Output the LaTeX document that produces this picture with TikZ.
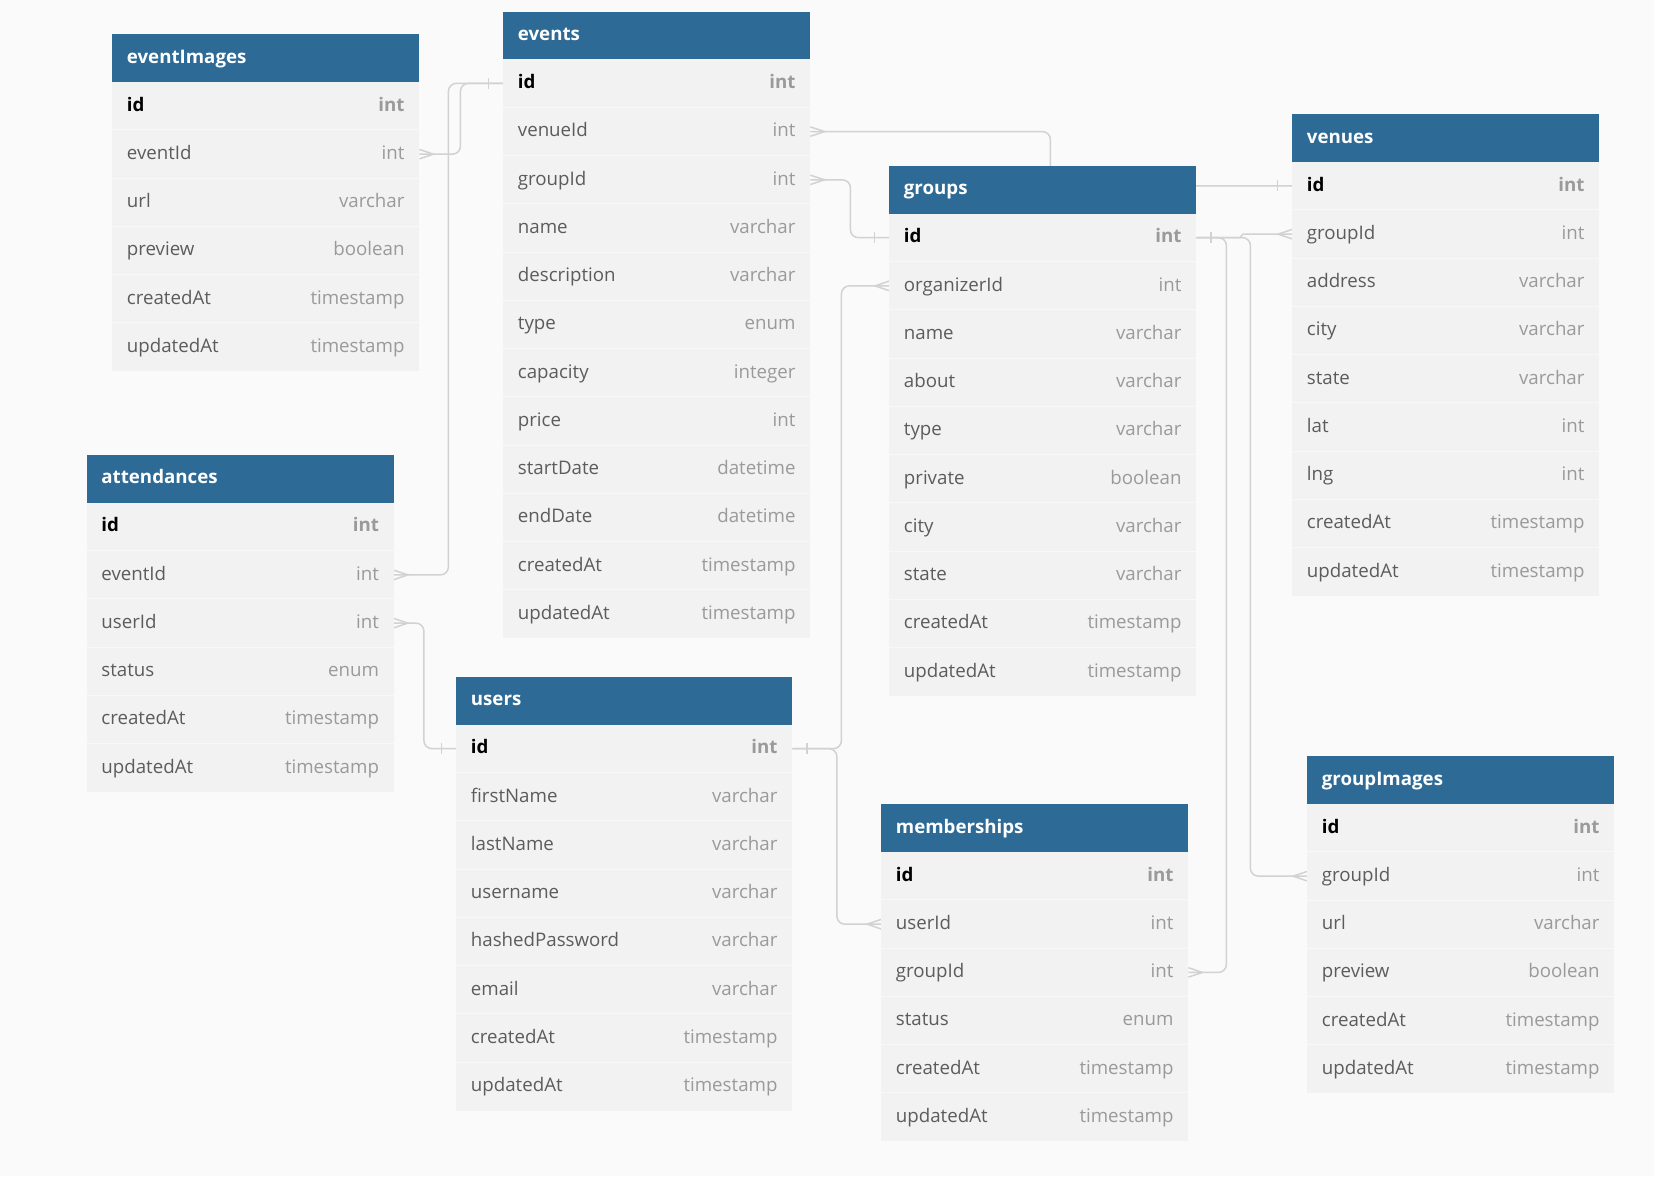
\documentclass[tikz,border=0pt]{standalone}
\usepackage{fontspec}
\setmainfont{Open Sans}
\usetikzlibrary{calc}
\definecolor{hdrblue}{HTML}{2D6A96}
\definecolor{rowbg}{HTML}{F2F2F2}
\definecolor{pagebg}{HTML}{FAFAFA}
\definecolor{fieldc}{HTML}{5C5C5C}
\definecolor{typec}{HTML}{9A9A9A}
\definecolor{linec}{HTML}{D2D2D2}
\definecolor{sepc}{HTML}{F8F8F8}
\pgfdeclarelayer{bglayer}\pgfdeclarelayer{lines}\pgfsetlayers{bglayer,lines,main}
\tikzset{
 hdr/.style={fill=hdrblue, draw=none, inner sep=0pt, minimum height=47.6pt},
 rowbox/.style={fill=rowbg, draw=none, inner sep=0pt, minimum height=48.25pt},
 htext/.style={text=white, font=\fontsize{18.7}{22}\selectfont\bfseries, inner sep=0pt},
 fname/.style={text=fieldc, font=\fontsize{18.7}{22}\selectfont, inner sep=0pt},
 ftype/.style={text=typec, font=\fontsize{18.7}{22}\selectfont, inner sep=0pt},
 idname/.style={text=black, font=\fontsize{18.7}{22}\selectfont\bfseries, inner sep=0pt},
 idtype/.style={text=typec, font=\fontsize{18.7}{22}\selectfont\bfseries, inner sep=0pt},
 rel/.style={draw=linec, line width=1.5pt, rounded corners=8pt},
 crowline/.style={draw=linec, line width=1.5pt},
 sepline/.style={draw=sepc, line width=1pt}
}
\newcommand\erdtable[6]{%
 \node[hdr, minimum width=#4pt, anchor=north west] (#1) at (#2,#3) {};
 \node[htext, anchor=base west] (#1-title) at ([xshift=14.7pt,yshift=-5pt]#1.west) {#5};
 \foreach \f/\t [count=\i] in {#6} {
   \pgfmathsetmacro\ry{#3+47.6+(\i-1)*48.25}
   \node[rowbox, minimum width=#4pt, anchor=north west] (#1-\i) at (#2,\ry) {};
   \ifnum\i>1 \draw[sepline] (#1-\i.north west) -- (#1-\i.north east); \fi
   \ifnum\i=1
     \node[idname, anchor=base west] (#1-\i-n) at ([xshift=14.7pt,yshift=-5.2pt]#1-\i.west) {\f};
     \node[idtype, anchor=base east] (#1-\i-t) at ([xshift=-14.7pt,yshift=-5.2pt]#1-\i.east) {\t};
   \else
     \node[fname, anchor=base west] (#1-\i-n) at ([xshift=14.7pt,yshift=-5.2pt]#1-\i.west) {\f};
     \node[ftype, anchor=base east] (#1-\i-t) at ([xshift=-14.7pt,yshift=-5.2pt]#1-\i.east) {\t};
   \fi
 }%
}
\newcommand\crowE[1]{\draw[crowline] ([yshift=4.7pt]#1) -- ([xshift=14pt]#1) -- ([yshift=-4.7pt]#1);}
\newcommand\crowW[1]{\draw[crowline] ([yshift=4.7pt]#1) -- ([xshift=-14pt]#1) -- ([yshift=-4.7pt]#1);}
\newcommand\tickE[1]{\draw[crowline] ([xshift=14.5pt,yshift=5.5pt]#1) -- ([xshift=14.5pt,yshift=-5.5pt]#1);}
\newcommand\tickW[1]{\draw[crowline] ([xshift=-14.5pt,yshift=5.5pt]#1) -- ([xshift=-14.5pt,yshift=-5.5pt]#1);}
\begin{document}
\begin{tikzpicture}[x=1pt,y=-1pt]
\begin{pgfonlayer}{bglayer}
\fill[pagebg] (0,0) rectangle (1654,1176);
\end{pgfonlayer}
\useasboundingbox (0,0) rectangle (1654,1176);

\erdtable{eventImages}{112}{34}{307}{eventImages}{id/int,eventId/int,url/varchar,preview/boolean,createdAt/timestamp,updatedAt/timestamp}
\erdtable{events}{503}{11.4}{307}{events}{id/int,venueId/int,groupId/int,name/varchar,description/varchar,type/enum,capacity/integer,price/int,startDate/datetime,endDate/datetime,createdAt/timestamp,updatedAt/timestamp}
\erdtable{groups}{889}{165.7}{307}{groups}{id/int,organizerId/int,name/varchar,about/varchar,type/varchar,private/boolean,city/varchar,state/varchar,createdAt/timestamp,updatedAt/timestamp}
\erdtable{venues}{1292}{114}{307}{venues}{id/int,groupId/int,address/varchar,city/varchar,state/varchar,lat/int,lng/int,createdAt/timestamp,updatedAt/timestamp}
\erdtable{attendances}{86.5}{454.7}{307}{attendances}{id/int,eventId/int,userId/int,status/enum,createdAt/timestamp,updatedAt/timestamp}
\erdtable{users}{456}{676.7}{336}{users}{id/int,firstName/varchar,lastName/varchar,username/varchar,hashedPassword/varchar,email/varchar,createdAt/timestamp,updatedAt/timestamp}
\erdtable{memberships}{881}{804}{307}{memberships}{id/int,userId/int,groupId/int,status/enum,createdAt/timestamp,updatedAt/timestamp}
\erdtable{groupImages}{1307}{756}{307}{groupImages}{id/int,groupId/int,url/varchar,preview/boolean,createdAt/timestamp,updatedAt/timestamp}

\begin{pgfonlayer}{lines}
% eventImages.eventId > events.id
\draw[rel] (eventImages-2.east) -- ++(41,0) |- (events-1.west);
\crowE{eventImages-2.east}
% attendances.eventId > events.id
\draw[rel] (attendances-2.east) -- ++(54.5,0) |- (events-1.west);
\crowE{attendances-2.east}
\tickW{events-1.west}
% attendances.userId > users.id
\draw[rel] (attendances-3.east) -- ++(30,0) |- (users-1.west);
\crowE{attendances-3.east}
\tickW{users-1.west}
% events.venueId > venues.id (passes behind groups)
\draw[rel] (events-2.east) -- ++(240,0) |- (venues-1.west);
\crowE{events-2.east}
\tickW{venues-1.west}
% events.groupId > groups.id
\draw[rel] (events-3.east) -- ++(40,0) |- (groups-1.west);
\crowE{events-3.east}
\tickW{groups-1.west}
% groups.organizerId > users.id
\draw[rel] (users-1.east) -- ++(49,0) |- (groups-2.west);
\crowW{groups-2.west}
% memberships.userId > users.id
\draw[rel] (users-1.east) -- ++(44.5,0) |- (memberships-2.west);
\crowW{memberships-2.west}
\tickE{users-1.east}
% memberships.groupId > groups.id
\draw[rel] (memberships-3.east) -- ++(38,0) |- (groups-1.east);
\crowE{memberships-3.east}
% groupImages.groupId > groups.id
\draw[rel] (groups-1.east) -- ++(54,0) |- (groupImages-2.west);
\crowW{groupImages-2.west}
% venues.groupId > groups.id
\draw[rel, rounded corners=1.5pt] (groups-1.east) -- ++(45,0) |- (venues-2.west);
\crowW{venues-2.west}
\tickE{groups-1.east}
\end{pgfonlayer}
\end{tikzpicture}
\end{document}
